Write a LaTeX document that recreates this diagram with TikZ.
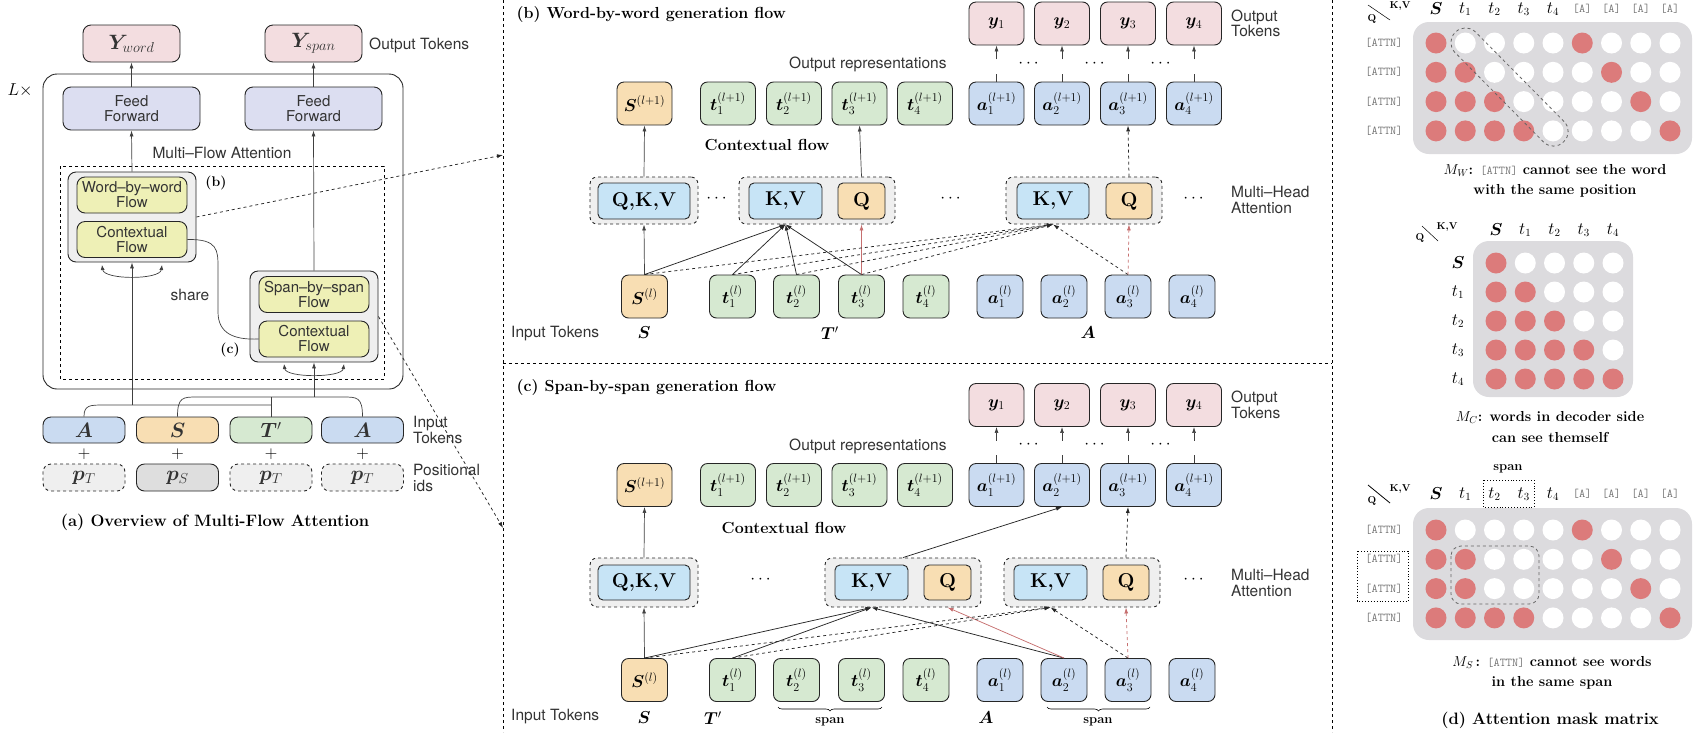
\documentclass[tikz,border=0pt]{standalone}
\usepackage{amsmath,bm}
\usepackage{fontspec}
\setsansfont{TeX Gyre Heros}
\usetikzlibrary{arrows.meta,calc,decorations.pathreplacing}
\definecolor{cpink}{HTML}{F3DDE0}
\definecolor{clav}{HTML}{DCDEF1}
\definecolor{cyel}{HTML}{EEF0B6}
\definecolor{cblue}{HTML}{CADBF1}
\definecolor{cgreen}{HTML}{D6E9D1}
\definecolor{corange}{HTML}{F8DEB3}
\definecolor{cqkv}{HTML}{C7E4F6}
\definecolor{cgrp}{HTML}{EFEFEF}
\definecolor{cmat}{HTML}{DCDBDE}
\definecolor{cred}{HTML}{DC7B7B}
\definecolor{cpos}{HTML}{DEDEDE}
\definecolor{ctxt}{HTML}{333333}
\newcommand\sizef[1]{\fontsize{#1}{#1}\selectfont}
\newcommand\tokrows[4]{%
 \node[otok,fill=corange] (#1oS) at (644.5,#2) {$\bm{S}^{(l+1)}$};
 \foreach \i/\x in {1/728,2/794,3/859.5,4/925}
   \node[otok,fill=cgreen] (#1ot\i) at (\x,#2) {$\bm{t}_\i^{(l+1)}$};
 \foreach \i/\x in {1/996.5,2/1062,3/1128,4/1194}{
   \node[otok,fill=cblue] (#1oa\i) at (\x,#2) {$\bm{a}_\i^{(l+1)}$};
   \node[otok,fill=cpink] (#1y\i) at (\x,#4) {$\bm{y}_\i$};
   \draw[gline] (#1oa\i.north) -- ++(0,-8);
   \draw[garr] ($(#1y\i.south)+(0,14)$) -- (#1y\i.south);}
 \foreach \x in {1030,1096,1162} \node[font=\sizef{16}] at (\x,#2-40) {$\cdots$};
 \node[lbl,anchor=west] at (788,#2-39) {Output representations};
 \node[lbl,anchor=west,align=left] at (1230,#4) {Output\\Tokens};
 \node[itok,fill=corange] (#1iS) at (644.5,#3) {$\bm{S}^{(l)}$};
 \foreach \i/\x in {1/732.5,2/796.5,3/861.5,4/926}
   \node[itok,fill=cgreen] (#1it\i) at (\x,#3) {$\bm{t}_\i^{(l)}$};
 \foreach \i/\x in {1/1000,2/1064,3/1128,4/1192}
   \node[itok,fill=cblue] (#1ia\i) at (\x,#3) {$\bm{a}_\i^{(l)}$};
 \node[lbl,anchor=west] at (510,#3+37) {Input Tokens};
}
\newcommand\mcirc[3]{\fill[#3] (#1,#2) circle[radius=10.5pt];}
\begin{document}
\begin{tikzpicture}[x=1pt,y=-1pt,
  lbl/.style={font=\sffamily\sizef{15.5}, text=ctxt, inner sep=1pt},
  gline/.style={draw=black!75, line width=0.7pt},
  garr/.style={gline,-{Latex[length=6pt,width=4pt]}},
  darr/.style={draw=black!85, line width=0.75pt,-{Latex[length=6pt,width=4pt]}},
  rarr/.style={draw=cred!90!black, line width=0.75pt,-{Latex[length=6pt,width=4pt]}},
  otok/.style={draw=black!85, line width=0.9pt, rounded corners=7pt, minimum width=55pt, minimum height=43pt, inner sep=0pt, font=\sizef{17}},
  itok/.style={otok, minimum width=46pt},
  grp/.style={draw=black!85, dashed, line width=0.9pt, fill=cgrp, rounded corners=7pt, minimum height=47pt, inner sep=0pt},
  kvq/.style={draw=black!85, line width=0.9pt, rounded corners=5pt, minimum height=36pt, inner sep=0pt, font=\bfseries\sizef{20}},
  abox/.style={draw=black!85, line width=0.9pt, rounded corners=8pt, inner sep=0pt, align=center, font=\sffamily\sizef{15}, text=ctxt},
  hdr/.style={font=\sizef{16}, inner sep=0pt},
  att/.style={font=\ttfamily\sizef{12}, text=black!55, inner sep=1pt},
  mcap/.style={font=\bfseries\sizef{14.5}, align=center, inner sep=0pt}]
\useasboundingbox (0,0) rectangle (1695,732);

% ================= panel (a)
\node[abox,fill=cpink,minimum width=97pt,minimum height=37pt,font=\sizef{20}] (yw) at (131.5,43.5) {$\bm{Y}_{word}$};
\node[abox,fill=cpink,minimum width=97pt,minimum height=37pt,font=\sizef{20}] (ys) at (313.5,43.5) {$\bm{Y}_{span}$};
\node[lbl,anchor=west] (otl) at (368,45) {Output Tokens};
\node[font=\sizef{18}] (lx) at (20,90) {$L\times$};
\draw[line width=0.9pt, draw=black!85, rounded corners=14pt] (43,74) rectangle (403,389);
\node[abox,fill=clav,minimum width=137pt,minimum height=43pt] (ff1) at (131.5,108.5) {Feed\\Forward};
\node[abox,fill=clav,minimum width=137pt,minimum height=43pt] (ff2) at (313.5,108.5) {Feed\\Forward};
\node[lbl] (mfa) at (222,153) {Multi–Flow Attention};
\draw[dashed, line width=0.8pt] (60,166) rectangle (384,379);
\node[abox,fill=cgrp,minimum width=128pt,minimum height=90pt] (wg) at (132,217) {};
\node[abox,fill=cyel,minimum width=110pt,minimum height=36pt] (wf) at (132,195) {Word–by–word\\Flow};
\node[abox,fill=cyel,minimum width=110pt,minimum height=36pt] (cf1) at (132,239.5) {Contextual\\Flow};
\node[font=\bfseries\sizef{14}] (lb) at (216,183) {(b)};
\node[abox,fill=cgrp,minimum width=128pt,minimum height=91pt] (sg) at (314,316.5) {};
\node[abox,fill=cyel,minimum width=110pt,minimum height=36pt] (sf) at (314,294.5) {Span–by–span\\Flow};
\node[abox,fill=cyel,minimum width=110pt,minimum height=36pt] (cf2) at (314,339) {Contextual\\Flow};
\node[font=\bfseries\sizef{14}] (lc) at (230,350) {(c)};
\node[lbl] (share) at (190,295) {share};
\draw[gline] (cf1.east) .. controls (218,239) and (218,250) .. (218,268) -- (218,312) .. controls (218,334) and (235,340) .. (cf2.west);
\draw[gline,{Latex[length=5pt,width=4pt]}-{Latex[length=5pt,width=4pt]}] (102,265) .. controls (104,280) and (160,280) .. (162,265);
\draw[gline,{Latex[length=5pt,width=4pt]}-{Latex[length=5pt,width=4pt]}] (284,364) .. controls (286,378) and (342,378) .. (344,364);
\draw[garr] (132,405) -- (wg.south);
\draw[garr] (wg.north) -- (ff1.south);
\draw[garr] (ff1.north) -- (yw.south);
\draw[garr] (314,397) -- (sg.south);
\draw[garr] (sg.north) -- (ff2.south);
\draw[garr] (ff2.north) -- (ys.south);
\node[abox,fill=cblue,minimum width=82pt,minimum height=26pt,font=\sizef{20}] (iA1) at (84,430) {$\bm{A}$};
\node[abox,fill=corange,minimum width=82pt,minimum height=26pt,font=\sizef{20}] (iS) at (177.5,430) {$\bm{S}$};
\node[abox,fill=cgreen,minimum width=82pt,minimum height=26pt,font=\sizef{20}] (iT) at (271,430) {$\bm{T}'$};
\node[abox,fill=cblue,minimum width=82pt,minimum height=26pt,font=\sizef{20}] (iA2) at (362.5,430) {$\bm{A}$};
\foreach \x in {84,177.5,271,362.5} \node[font=\sizef{18}] at (\x,454) {$+$};
\node[abox,fill=cgrp,dashed,minimum width=82pt,minimum height=27pt,font=\sizef{20}] (pA1) at (84,477.5) {$\bm{p}_T$};
\node[abox,fill=cpos,minimum width=82pt,minimum height=27pt,font=\sizef{20}] (pS) at (177.5,477.5) {$\bm{p}_S$};
\node[abox,fill=cgrp,dashed,minimum width=82pt,minimum height=27pt,font=\sizef{20}] (pT) at (271,477.5) {$\bm{p}_T$};
\node[abox,fill=cgrp,dashed,minimum width=82pt,minimum height=27pt,font=\sizef{20}] (pA2) at (362.5,477.5) {$\bm{p}_T$};
\node[lbl,anchor=west,align=left] (itl) at (412,430) {Input\\Tokens};
\node[lbl,anchor=west,align=left] (pil) at (412,478) {Positional\\ids};
\draw[gline] (iA1.north) .. controls (84,405) and (90,405) .. (104,405) -- (271,405);
\draw[gline] (iT.north) -- (271,397);
\draw[gline] (iS.north) .. controls (177.5,397) and (183,397) .. (197,397) -- (343,397) .. controls (357,397) and (362.5,397) .. (iA2.north);
\coordinate (bin) at (503,155);
\coordinate (cin) at (503,528);
\draw[dashed,darr] (wg.east) -- (bin);
\draw[dashed,darr] (sg.east) -- (cin);
\node[font=\bfseries\sizef{16.5}] (capa) at (215,522) {(a) Overview of Multi-Flow Attention};

% separators
\draw[dashed, line width=0.8pt] (503,0) -- (503,732);
\draw[dashed, line width=0.8pt] (1332,0) -- (1332,732);
\draw[dashed, line width=0.8pt] (503,363) -- (1332,363);

% ================= panel (b)
\node[anchor=west,font=\bfseries\sizef{16}] (tb) at (513,15) {(b) Word-by-word generation flow};
\tokrows{b}{103.5}{296.5}{23.5}
\node[font=\bfseries\sizef{16}] (cfb) at (767,145) {Contextual flow};
\node[grp,minimum width=108pt] (bg1) at (644,200.5) {};
\node[kvq,fill=cqkv,minimum width=92pt] (bqkv) at (644,201) {Q,K,V};
\node[grp,minimum width=156pt] (bg2) at (817,200.5) {};
\node[kvq,fill=cqkv,minimum width=73pt] (bkv1) at (785.5,201) {K,V};
\node[kvq,fill=corange,minimum width=47pt] (bq1) at (861.5,201) {Q};
\node[grp,minimum width=156pt] (bg3) at (1084,200.5) {};
\node[kvq,fill=cqkv,minimum width=72pt] (bkv2) at (1053,201) {K,V};
\node[kvq,fill=corange,minimum width=46pt] (bq2) at (1129,201) {Q};
\foreach \x in {718,952,1195} \node[font=\sizef{16}] at (\x,199) {$\cdots$};
\node[lbl,anchor=west,align=left] (mhb) at (1230,200) {Multi–Head\\Attention};
\node[font=\sizef{17}] at (644,333) {$\bm{S}$};
\node[font=\sizef{17}] at (830,333) {$\bm{T}'$};
\node[font=\sizef{17}] at (1088,333) {$\bm{A}$};
\draw[garr] (biS.north) -- (bg1.south);
\draw[garr] (bg1.north) -- (boS.south);
\coordinate (bk1) at (bkv1.south |- bg2.south);
\coordinate (bk2) at (bkv2.south |- bg3.south);
\foreach \n in {biS,bit1,bit2,bit3} \draw[darr] (\n.north) -- (bk1);
\draw[rarr] (bit3.north) -- (bq1.south |- bg2.south);
\draw[garr] (bq1.north |- bg2.north) -- (bot3.south);
\foreach \n in {biS,bit1,bit2,bit3,bia3} \draw[darr,dashed] (\n.north) -- (bk2);
\draw[rarr,dashed] (bia3.north) -- (bq2.south |- bg3.south);
\draw[darr,dashed] (bq2.north |- bg3.north) -- (boa3.south);

% ================= panel (c)
\node[anchor=west,font=\bfseries\sizef{16}] (tc) at (513,387) {(c) Span-by-span generation flow};
\tokrows{c}{485}{680}{405}
\node[font=\bfseries\sizef{16}] (cfc) at (784,528) {Contextual flow};
\node[grp,minimum width=108pt,minimum height=49pt] (cg1) at (644,582.5) {};
\node[kvq,fill=cqkv,minimum width=92pt,minimum height=35pt] (cqkv) at (644,582.5) {Q,K,V};
\node[grp,minimum width=156pt,minimum height=49pt] (cg2) at (903,582.5) {};
\node[kvq,fill=cqkv,minimum width=73pt,minimum height=35pt] (ckv1) at (871.5,582.5) {K,V};
\node[kvq,fill=corange,minimum width=47pt,minimum height=35pt] (cq1) at (947.5,582.5) {Q};
\node[grp,minimum width=156pt,minimum height=49pt] (cg3) at (1082,582.5) {};
\node[kvq,fill=cqkv,minimum width=73pt,minimum height=35pt] (ckv2) at (1050.5,582.5) {K,V};
\node[kvq,fill=corange,minimum width=46pt,minimum height=35pt] (cq2) at (1126,582.5) {Q};
\foreach \x in {762,1195} \node[font=\sizef{16}] at (\x,580) {$\cdots$};
\node[lbl,anchor=west,align=left] (mhc) at (1230,583) {Multi–Head\\Attention};
\node[font=\sizef{17}] at (644,718) {$\bm{S}$};
\node[font=\sizef{17}] at (713,718) {$\bm{T}'$};
\node[font=\sizef{17}] at (986,718) {$\bm{A}$};
\draw[decorate,decoration={brace,amplitude=4pt},line width=0.6pt] (882,707) -- (778,707);
\draw[decorate,decoration={brace,amplitude=4pt},line width=0.6pt] (1150,707) -- (1047,707);
\node[font=\bfseries\sizef{13}] at (830,722) {span};
\node[font=\bfseries\sizef{13}] at (1098,722) {span};
\draw[garr] (ciS.north) -- (cg1.south);
\draw[garr] (cg1.north) -- (coS.south);
\coordinate (ck1) at (ckv1.south |- cg2.south);
\coordinate (ck2) at (ckv2.south |- cg3.south);
\foreach \n in {ciS,cit1,cia2} \draw[darr] (\n.north) -- (ck1);
\draw[rarr] (cia2.north) -- (cq1.south |- cg2.south);
\draw[darr] (cg2.north) -- (coa2.south);
\foreach \n in {ciS,cit1,cia3} \draw[darr,dashed] (\n.north) -- (ck2);
\draw[rarr,dashed] (cia3.north) -- (cq2.south |- cg3.south);
\draw[darr,dashed] (cq2.north |- cg3.north) -- (coa3.south);

% ================= panel (d)
% M_W
\fill[cmat,rounded corners=16pt] (1413,22) rectangle (1692,154);
\draw[line width=0.5pt] (1368,5) -- (1390,20);
\node[font=\bfseries\sizef{10}] at (1372,19) {Q};
\node[font=\bfseries\sizef{10}] at (1400,6) {K,V};
\foreach \r in {0,...,3}{
  \node[att] at (1384,43+29.3*\r) {[ATTN]};
  \foreach \c in {0,...,8}{
    \pgfmathtruncatemacro\isred{or(\c<\r+1,\c==5+\r)}
    \ifnum\isred=1 \mcirc{1436+29.25*\c}{43+29.3*\r}{cred}\else\mcirc{1436+29.25*\c}{43+29.3*\r}{white}\fi
  }}
\node[draw=black!60,dashed,line width=0.8pt,rounded corners=14pt,minimum width=154pt,minimum height=29pt,rotate=-45.3] (mwd) at (1509.5,87) {};
\node[hdr] at (1436,9) {$\bm{S}$};
\foreach \c in {1,...,4} \node[hdr] at (1436+29.25*\c,9) {$t_\c$};
\foreach \c in {5,...,8} \node[att] at (1436+29.25*\c,9) {[A]};
\node[mcap] (capw) at (1555,181) {$M_W$: {\ttfamily\mdseries\sizef{12}\color{black!55}[ATTN]} cannot see the word\\[6pt]with the same position};

% M_C
\fill[cmat,rounded corners=16pt] (1473,241) rectangle (1633,397);
\draw[line width=0.5pt] (1422,226) -- (1438,241);
\node[font=\bfseries\sizef{10}] at (1420,238) {Q};
\node[font=\bfseries\sizef{10}] at (1447,227) {K,V};
\node[hdr] at (1496,230) {$\bm{S}$};
\foreach \c in {1,...,4} \node[hdr] at (1496+29.25*\c,230) {$t_\c$};
\node[hdr] at (1458,263) {$\bm{S}$};
\foreach \r in {1,...,4} \node[hdr] at (1458,263+29*\r) {$t_\r$};
\foreach \r in {0,...,4}{
  \foreach \c in {0,...,4}{
    \ifnum\c>\r \mcirc{1496+29.25*\c}{263+29*\r}{white}\else\mcirc{1496+29.25*\c}{263+29*\r}{cred}\fi
  }}
\node[mcap] (capc) at (1550,427) {$M_C$: words in decoder side\\[6pt]can see themself};

% M_S
\node[font=\bfseries\sizef{13}] at (1508,469) {span};
\draw[line width=0.8pt] (1368,485) -- (1390,503);
\node[font=\bfseries\sizef{10}] at (1372,501) {Q};
\node[font=\bfseries\sizef{10}] at (1400,489) {K,V};
\node[hdr] at (1436,494) {$\bm{S}$};
\foreach \c in {1,...,4} \node[hdr] at (1436+29.25*\c,494) {$t_\c$};
\foreach \c in {5,...,8} \node[att] at (1436+29.25*\c,494) {[A]};
\draw[dotted,line width=0.9pt] (1483,480) rectangle (1534,507);
\fill[cmat,rounded corners=16pt] (1413,508) rectangle (1692,640);
\foreach \r/\k in {0/0,1/1,2/1,3/3}{
  \node[att] at (1384,530+29.3*\r) {[ATTN]};
  \foreach \c in {0,...,8}{
    \pgfmathtruncatemacro\isred{or(\c<\k+1,\c==5+\r)}
    \ifnum\isred=1 \mcirc{1436+29.25*\c}{530+29.3*\r}{cred}\else\mcirc{1436+29.25*\c}{530+29.3*\r}{white}\fi
  }}
\draw[dotted,line width=0.9pt] (1357,551) rectangle (1408,601);
\draw[dashed,draw=black!60,line width=0.8pt,rounded corners=10pt] (1451,546) rectangle (1539,604);
\node[mcap] (caps) at (1552,673) {$M_S$\,: {\ttfamily\mdseries\sizef{12}\color{black!55}[ATTN]} cannot see words\\[6pt]in the same span};
\node[font=\bfseries\sizef{16.5}] (capd) at (1550,720) {(d) Attention mask matrix};
\end{tikzpicture}
\end{document}
